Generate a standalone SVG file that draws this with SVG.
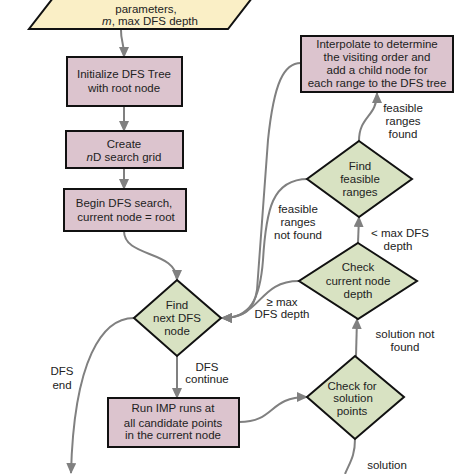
<svg xmlns="http://www.w3.org/2000/svg" width="474" height="474" viewBox="0 0 474 474">
<defs>
<marker id="arr" markerUnits="userSpaceOnUse" markerWidth="11" markerHeight="10" refX="10" refY="5" orient="auto">
<path d="M0,0 L11,5 L0,10 z" fill="#808080"/>
</marker>
<style>
.box{fill:#dcc4ce;stroke:#111;stroke-width:2}
.dia{fill:#d8e2c2;stroke:#111;stroke-width:2}
.io{fill:#faefc6;stroke:#111;stroke-width:2}
.t{font-family:"Liberation Sans",Arial,sans-serif;font-size:11.5px;fill:#222;text-anchor:middle}
.c{fill:none;stroke:#808080;stroke-width:2}
.ca{fill:none;stroke:#808080;stroke-width:2;marker-end:url(#arr)}
</style>
</defs>
<rect width="474" height="474" fill="#fff"/>
<g id="connectors">
<path class="ca" d="M121,30 C121,44 124,40 124,57"/>
<path class="ca" d="M124,106 L124,131"/>
<path class="ca" d="M124,168 L124,189"/>
<path class="ca" d="M124,231 C124,258 177,250 177,280"/>
<path class="ca" d="M177,356 L177,398"/>
<path class="ca" d="M134,318 C102,318 74,360 71,473"/>
<path class="ca" d="M239,422 C276,422 268,397 307,397"/>
<path class="c" d="M355,439 C355,456 350,462 345,474"/>
<path class="ca" d="M356,356 L357,319"/>
<path class="ca" d="M299,281 C258,281 262,318 222,318"/>
<path class="ca" d="M358,243 L359,217"/>
<path class="ca" d="M308,179 C272,179 266,210 263,260 C260,300 250,318 222,318"/>
<path class="ca" d="M301,63 C284,63 274,82 268,140 L257,290 C254,310 244,318 222,318"/>
<path class="ca" d="M359,141 C359,116 377,117 377,93"/>
</g>
<g id="input">
<polygon class="io" points="53,-2 252,-2 228,29 29,29"/>
<text class="t" x="146" y="13">parameters,</text>
<text class="t" x="150" y="25"><tspan font-style="italic">m</tspan>, max DFS depth</text>
</g>
<g id="init">
<rect class="box" x="67" y="57" width="115" height="49"/>
<text class="t" x="124" y="78">Initialize DFS Tree</text>
<text class="t" x="124" y="92">with root node</text>
</g>
<g id="grid">
<rect class="box" x="66" y="131" width="117" height="37"/>
<text class="t" x="124" y="148">Create</text>
<text class="t" x="124" y="161"><tspan font-style="italic">n</tspan>D search grid</text>
</g>
<g id="begin">
<rect class="box" x="64" y="189" width="122" height="42"/>
<text class="t" x="124" y="207">Begin DFS search,</text>
<text class="t" x="126" y="221">current node = root</text>
</g>
<g id="next">
<polygon class="dia" points="177,280 221,318 177,356 134,318"/>
<text class="t" x="177" y="309">Find</text>
<text class="t" x="177" y="322">next DFS</text>
<text class="t" x="177" y="335">node</text>
</g>
<g id="run">
<rect class="box" x="108" y="398" width="131" height="49"/>
<text class="t" x="173" y="412">Run IMP runs at</text>
<text class="t" x="173" y="427">all candidate points</text>
<text class="t" x="173" y="439">in the current node</text>
</g>
<g id="checksol">
<polygon class="dia" points="355,356 404,397 355,439 307,397"/>
<text class="t" x="352" y="390">Check for</text>
<text class="t" x="353" y="402">solution</text>
<text class="t" x="352" y="415">points</text>
</g>
<g id="checkdepth">
<polygon class="dia" points="358,243 417,281 358,319 299,281"/>
<text class="t" x="358" y="271">Check</text>
<text class="t" x="358" y="285">current node</text>
<text class="t" x="358" y="298">depth</text>
</g>
<g id="feasible">
<polygon class="dia" points="359,141 412,179 359,217 307,179"/>
<text class="t" x="360" y="170">Find</text>
<text class="t" x="360" y="183">feasible</text>
<text class="t" x="360" y="196">ranges</text>
</g>
<g id="interp">
<rect class="box" x="301" y="36" width="152" height="56"/>
<text class="t" x="377" y="48">Interpolate to determine</text>
<text class="t" x="377" y="61">the visiting order and</text>
<text class="t" x="377" y="74">add a child node for</text>
<text class="t" x="377" y="87">each range to the DFS tree</text>
</g>
<g id="labels">
<text class="t" x="62" y="375">DFS</text>
<text class="t" x="62" y="389">end</text>
<text class="t" x="207" y="371">DFS</text>
<text class="t" x="207" y="383">continue</text>
<text class="t" x="387" y="469">solution</text>
<text class="t" x="405" y="338">solution not</text>
<text class="t" x="405" y="351">found</text>
<text class="t" x="282" y="306">≥ max</text>
<text class="t" x="282" y="318">DFS depth</text>
<text class="t" x="400" y="237">&lt; max DFS</text>
<text class="t" x="398" y="250">depth</text>
<text class="t" x="298" y="213">feasible</text>
<text class="t" x="298" y="226">ranges</text>
<text class="t" x="298" y="239">not found</text>
<text class="t" x="403" y="112">feasible</text>
<text class="t" x="403" y="125">ranges</text>
<text class="t" x="403" y="138">found</text>
</g>
</svg>
